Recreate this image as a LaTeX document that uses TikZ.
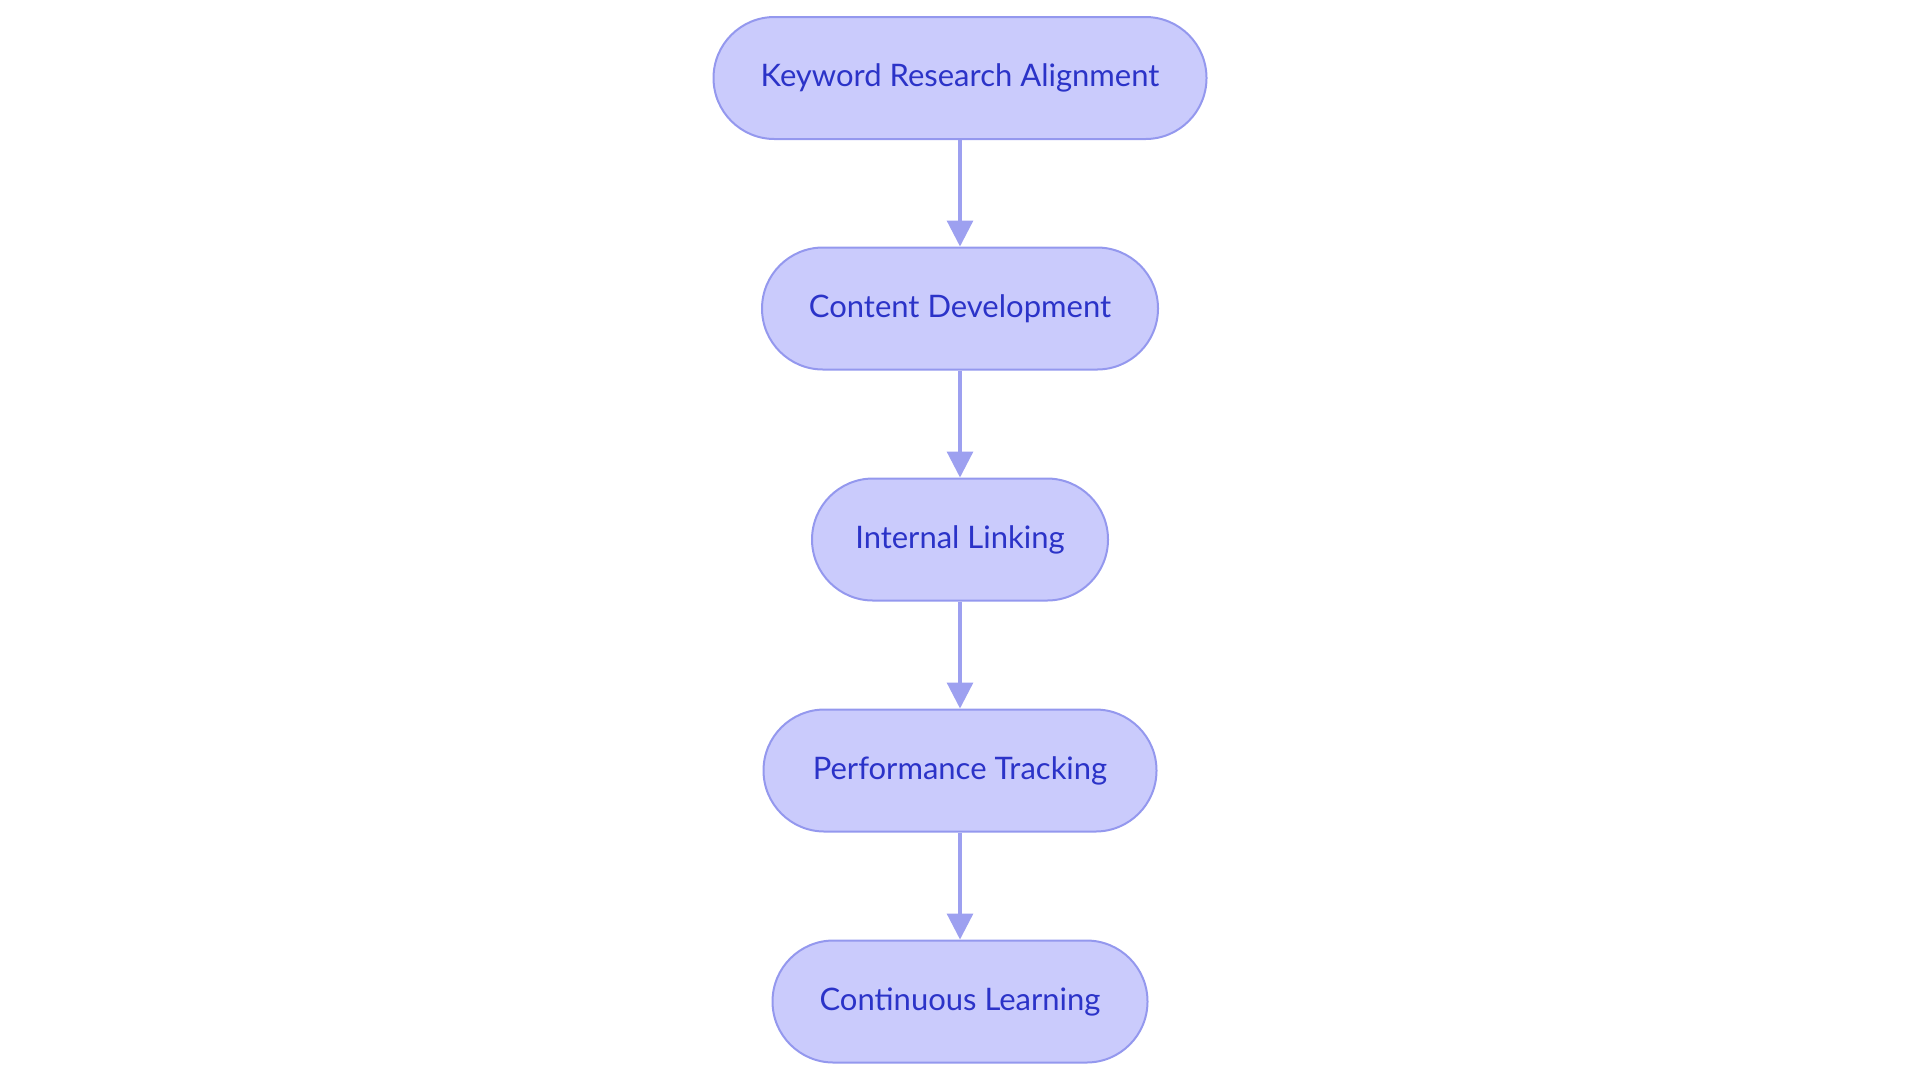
\documentclass[tikz,border=0pt]{standalone}
\usepackage{fontspec}
\setmainfont{Lato}
\usetikzlibrary{arrows.meta}
\definecolor{nodefill}{HTML}{CACBFC}
\definecolor{nodeedge}{HTML}{9498EE}
\definecolor{nodetext}{HTML}{2B33C8}
\definecolor{arrowcol}{HTML}{9DA0F0}
\tikzset{
  stadium/.style={draw=nodeedge, fill=nodefill, line width=1pt, rounded corners=30.5pt,
    minimum height=61pt, inner sep=0pt, text=nodetext, font=\fontsize{15.5pt}{18pt}\selectfont},
  flow/.style={draw=arrowcol, line width=1.6pt, -{Triangle[length=13pt,width=13pt]}, shorten >=0pt}
}
\begin{document}
\begin{tikzpicture}[x=0.5pt,y=-0.5pt]
\useasboundingbox (0,0) rectangle (1920,1083);
\node[stadium, minimum width=246.5pt] (a) at (960,78) {Keyword Research Alignment};
\node[stadium, minimum width=198pt] (b) at (960,308.5) {Content Development};
\node[stadium, minimum width=148pt] (c) at (960,539.5) {Internal Linking};
\node[stadium, minimum width=196.5pt] (d) at (960,770.5) {Performance Tracking};
\node[stadium, minimum width=187.5pt] (e) at (960,1001.5) {Continuous Learning};
\draw[flow] (a) -- (b);
\draw[flow] (b) -- (c);
\draw[flow] (c) -- (d);
\draw[flow] (d) -- (e);
\end{tikzpicture}
\end{document}
